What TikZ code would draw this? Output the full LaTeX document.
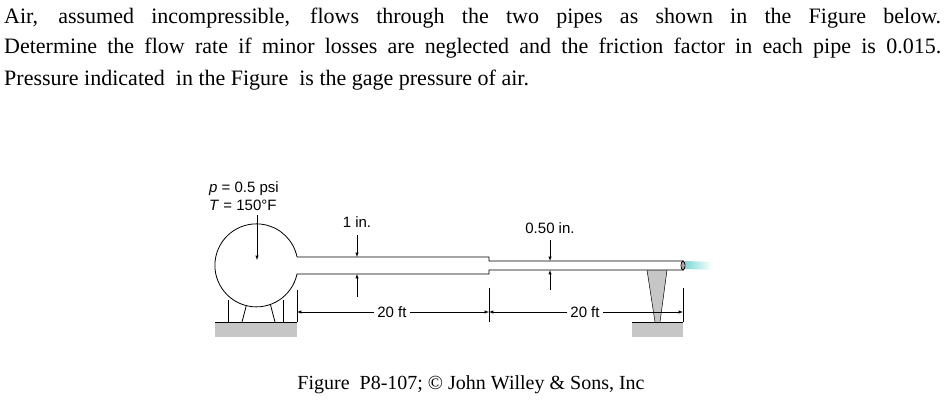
\documentclass[tikz,border=0pt]{standalone}
\usepackage{fontspec}
\setmainfont{Liberation Serif}
\newfontfamily\figsans{Liberation Sans}
\begin{document}
\begin{tikzpicture}[x=1pt,y=-1pt,
  lbl/.style={font=\figsans\fontsize{15}{16}\selectfont, inner sep=0pt},
  txt/.style={font=\fontsize{22}{24}\selectfont, anchor=west, inner sep=0pt},
  dim/.style={-latex, line width=0.5pt},
  ln/.style={line width=0.8pt},
  grd/.style={fill=gray!45, draw=none}]
\useasboundingbox (0,0) rectangle (951,403);
\node[txt] (l1) at (4,18) {\makebox[937pt][s]{Air, assumed incompressible, flows through the two pipes as shown in the Figure below.}};
\node[txt] (l2) at (4,48) {\makebox[937pt][s]{Determine the flow rate if minor losses are neglected and the friction factor in each pipe is 0.015.}};
\node[txt] (l3) at (4,80) {Pressure indicated\ \ in the Figure\ \ is the gage pressure of air.};
\fill[grd] (215,322) rectangle (297,337);
\fill[grd] (632,322) rectangle (683,337);
\draw[ln] (215,322) -- (297,322);
\draw[ln] (632,322) -- (683,322);
\draw[ln] (228,300) -- (228,322);
\draw[ln] (283,300) -- (283,322);
\draw[ln] (242,322) -- (247,303);
\draw[ln] (275,322) -- (270,303);
\fill[gray!45] (647,270) -- (667,270) -- (660,322) -- (655,322) -- cycle;
\draw[line width=0.5pt] (647,270) -- (655,322) (667,270) -- (660,322);
\shade[left color=cyan!40!teal!50, right color=white] (685,261) -- (712,262) -- (712,270) -- (685,269) -- cycle;
\draw[ln, fill=white] (297,257) -- (489,257) -- (489,261) -- (683,261) -- (683,270) -- (489,270) -- (489,274) -- (297,274)
  arc[start angle=12, end angle=348, radius=41.5];
\draw[ln] (683,265.5) ellipse[x radius=2, y radius=4.5];
\node[lbl, anchor=west] (pp) at (209,189) {\textit{p} = 0.5 psi};
\node[lbl, anchor=west] (pT) at (209,205) {\textit{T} = 150\textdegree F};
\coordinate (pa) at (257,215);
\coordinate (pb) at (257,260);
\draw[dim] (pa) -- (pb);
\node[lbl] (d1) at (357,222) {1 in.};
\coordinate (d1a) at (357,235); \coordinate (d1b) at (357,257);
\coordinate (d1c) at (357,297); \coordinate (d1d) at (357,274);
\draw[dim] (d1a) -- (d1b); \draw[dim] (d1c) -- (d1d);
\node[lbl] (d2) at (550,228) {0.50 in.};
\coordinate (d2a) at (550,240); \coordinate (d2b) at (550,261);
\coordinate (d2c) at (550,290); \coordinate (d2d) at (550,270);
\draw[dim] (d2a) -- (d2b); \draw[dim] (d2c) -- (d2d);
\draw[line width=0.5pt] (297,290) -- (297,322) (489,288) -- (489,322) (683,288) -- (683,322);
\node[lbl, fill=white, inner xsep=3pt] (f1) at (392,312) {20 ft};
\node[lbl, fill=white, inner xsep=3pt] (f2) at (585,312) {20 ft};
\draw[dim] (f1.west) -- (297,312); \draw[dim] (f1.east) -- (489,312);
\draw[dim] (f2.west) -- (489,312); \draw[dim] (f2.east) -- (683,312);
\node[font=\fontsize{20}{22}\selectfont, inner sep=0pt] (cap) at (471,385) {Figure\ \ P8-107; \textcopyright\ John Willey \& Sons, Inc};
\end{tikzpicture}
\end{document}
